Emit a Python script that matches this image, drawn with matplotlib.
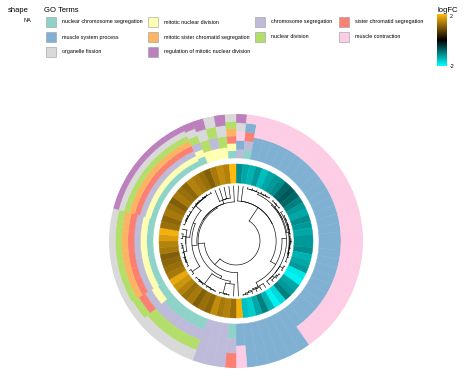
import numpy as np
import matplotlib.pyplot as plt
from matplotlib.colors import LinearSegmentedColormap, Normalize
from matplotlib.patches import Rectangle

plt.rcParams['font.family'] = ['Liberation Sans', 'DejaVu Sans']

# GO terms (order used for stacking, inner -> outer)
term_keys = ['ncs', 'mnd', 'cs', 'scs', 'msp', 'mscs', 'nd', 'mc', 'of', 'rmnd']
term_names = ['nuclear chromosome segregation', 'mitotic nuclear division',
              'chromosome segregation', 'sister chromatid segregation',
              'muscle system process', 'mitotic sister chromatid segregation',
              'nuclear division', 'muscle contraction', 'organelle fission',
              'regulation of mitotic nuclear division']
term_colors = ['#8DD3C7', '#FFFFB3', '#BEBADA', '#FB8072', '#80B1D3',
               '#FDB462', '#B3DE69', '#FCCDE5', '#D9D9D9', '#BC80BD']

# terms of each gene, in dendrogram order (clockwise from 12 o'clock)
gene_terms = (['cs msp mc of rmnd', 'ncs cs scs msp mc']
              + ['msp mc'] * 27
              + ['msp'] * 6
              + ['msp mc']
              + ['ncs cs scs']
              + ['cs'] * 3
              + ['ncs cs nd of'] * 6
              + ['ncs mnd cs scs nd of'] * 2
              + ['ncs mnd cs scs mscs nd of'] * 9
              + ['ncs mnd cs scs mscs nd of rmnd'] * 10
              + ['ncs mnd cs nd of rmnd', 'mnd nd of rmnd', 'mnd cs nd of',
                 'mnd nd of rmnd', 'ncs mnd scs mscs nd of'])

logfc = [-1.1, -1.3, -1.4, -1.2, -1.5, -1.3, -1.2, -1.1, -0.8, -0.7,
         -0.8, -1.0, -1.2, -1.3, -1.1, -1.2, -1.3, -1.2, -1.2, -1.1,
         -1.4, -1.3, -1.2, -1.8, -1.9, -1.3, -1.2, -1.0, -1.7, -1.9,
         -1.4, -1.0, -1.3, -1.6, -1.5,
         1.9, 1.2, 1.4, 1.3, 1.5, 1.1, 1.2, 1.0, 1.3, 1.2,
         1.4, 1.6, 1.8, 1.3, 1.2, 1.1, 1.0, 1.3, 1.4, 1.7,
         1.9, 1.2, 1.1, 1.3, 1.2, 1.0, 1.3, 1.2, 1.1, 1.4,
         1.3, 1.2, 1.0, 1.3, 1.5, 1.4, 2.0]

assert len(gene_terms) == len(logfc)
n = len(logfc)

# feature matrix: term membership + logFC
X = np.zeros((n, len(term_keys) + 1))
for i, s in enumerate(gene_terms):
    for k in s.split():
        X[i, term_keys.index(k)] = 1
X[:, -1] = logfc

# average linkage clustering (euclidean), merging neighbouring clusters only
# so the leaves keep the order
D = np.sqrt(((X[:, None, :] - X[None, :, :]) ** 2).sum(-1))
members = {i: [i] for i in range(n)}
children = {}
height = {i: 0.0 for i in range(n)}
active = list(range(n))
nid = n
while len(active) > 1:
    dists = [D[np.ix_(members[active[i]], members[active[i + 1]])].mean()
             for i in range(len(active) - 1)]
    i = int(np.argmin(dists))
    a, b = active[i], active[i + 1]
    members[nid] = members[a] + members[b]
    children[nid] = (a, b)
    height[nid] = max(dists[i], height[a], height[b])
    active[i:i + 2] = [nid]
    nid += 1
root = active[0]

xpos = {g: g + 0.5 for g in range(n)}


def node_x(node):
    if node not in xpos:
        a, b = children[node]
        xpos[node] = (node_x(a) + node_x(b)) / 2
    return xpos[node]


node_x(root)

# radii (pixels)
r_root, r_leaf = 24, 55
r_lfc0, r_lfc1 = 58, 77
r_term0, r_term1 = 83, 127
hmax = height[root]


def rad(h):
    return r_leaf - (r_leaf - r_root) * h / hmax


def th(x):
    return 2 * np.pi * x / n


fig = plt.figure(figsize=(4.74, 3.80), dpi=100)
W, H = 474, 380
cx, cy = 236, 241
ax = fig.add_axes([(cx - r_term1) / W, (H - cy - r_term1) / H,
                   2 * r_term1 / W, 2 * r_term1 / H], projection='polar')
ax.set_theta_zero_location('N')
ax.set_theta_direction(-1)

# dendrogram
for node, (a, b) in children.items():
    h = height[node]
    t = np.linspace(th(xpos[a]), th(xpos[b]), 60)
    ax.plot(t, np.full_like(t, rad(h)), color='black', lw=0.45)
    for c in (a, b):
        ax.plot([th(xpos[c])] * 2, [rad(h), rad(height[c])], color='black', lw=0.45)

# logFC ring
cmap = LinearSegmentedColormap.from_list('lfc', ['#00FFFF', '#000000', '#FFB90F'])
norm = Normalize(-2, 2)
width = 2 * np.pi / n
thetas = [th(k + 0.5) for k in range(n)]
lfc_cols = [cmap(norm(v)) for v in logfc]
ax.bar(thetas, r_lfc1 - r_lfc0, width=width, bottom=r_lfc0, color=lfc_cols,
       edgecolor=lfc_cols, linewidth=0.3)

# GO term ring: each gene's bar split evenly between its terms
bt, bh, bb, bc = [], [], [], []
for k in range(n):
    ts = sorted(term_keys.index(s) for s in gene_terms[k].split())
    step = (r_term1 - r_term0) / len(ts)
    for j, t in enumerate(ts):
        bt.append(thetas[k])
        bh.append(step)
        bb.append(r_term0 + j * step)
        bc.append(term_colors[t])
ax.bar(bt, bh, width=width, bottom=bb, color=bc, edgecolor=bc, linewidth=0.3)

ax.set_ylim(0, r_term1)
ax.axis('off')

# legends
def fx(x):
    return x / W


def fy(y):
    return 1 - y / H


fig.text(fx(8), fy(10), 'shape', fontsize=5.5, va='center', ha='left')
fig.text(fx(23), fy(21), 'NA', fontsize=4, va='center', ha='left')
fig.text(fx(44), fy(10), 'GO Terms', fontsize=5.5, va='center', ha='left')

key_x = [46, 148, 255, 339]
key_y = [17, 32, 47]
for i in range(len(term_names)):
    col, row = i % 4, i // 4
    x0, y0 = key_x[col], key_y[row]
    fig.add_artist(Rectangle((fx(x0), fy(y0 + 9.5)), 9.5 / W, 9.5 / H,
                             transform=fig.transFigure, facecolor=term_colors[i],
                             edgecolor='#9a9a9a', linewidth=0.4))
    fig.text(fx(x0 + 16), fy(y0 + 5), term_names[i], fontsize=3.9,
             va='center', ha='left')

# logFC colour bar
fig.text(fx(437), fy(10), 'logFC', fontsize=5.5, va='center', ha='left')
cax = fig.add_axes([fx(437), fy(66), 10 / W, 52 / H])
grad = np.linspace(2, -2, 200).reshape(-1, 1)
cax.imshow(grad, aspect='auto', cmap=cmap, norm=norm, extent=[0, 1, -2, 2])
cax.set_xticks([])
cax.set_yticks([])
for s in cax.spines.values():
    s.set_visible(False)
fig.text(fx(450), fy(17), '2', fontsize=3.9, va='center', ha='left')
fig.text(fx(450), fy(66), '-2', fontsize=3.9, va='center', ha='left')

fig.savefig('out.png', dpi=100)
